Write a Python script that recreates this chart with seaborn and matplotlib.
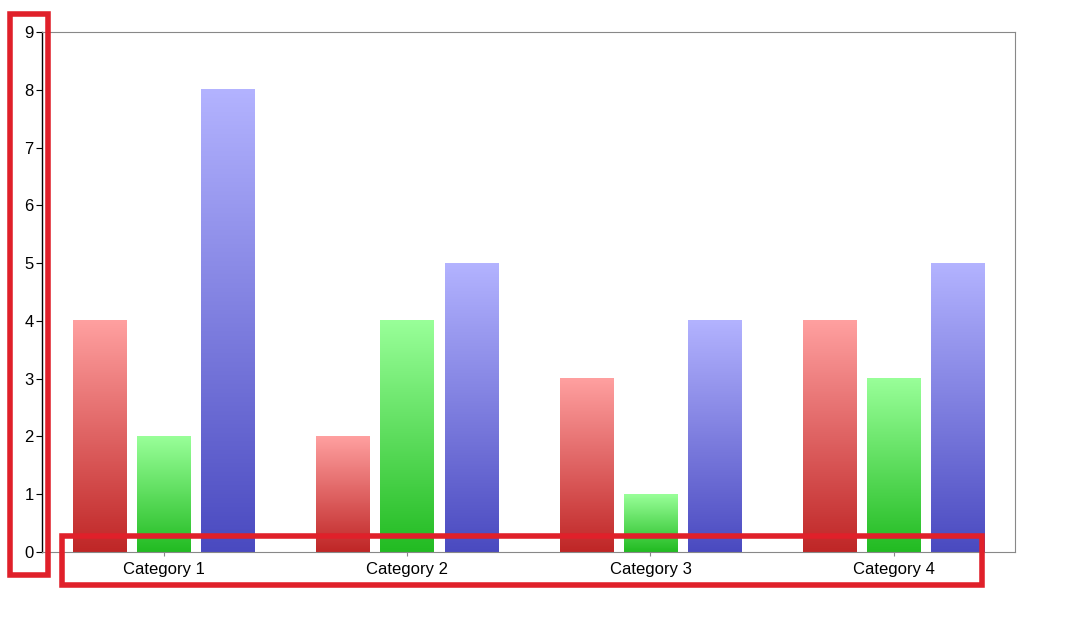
import numpy as np
import pandas as pd
import matplotlib
matplotlib.use('Agg')
import matplotlib.pyplot as plt
import seaborn as sns
from matplotlib.colors import LinearSegmentedColormap
from matplotlib.patches import Rectangle

categories = ['Category 1', 'Category 2', 'Category 3', 'Category 4']
series_names = ['Series 1', 'Series 2', 'Series 3']
series_1 = [4, 2, 3, 4]
series_2 = [2, 4, 1, 3]
series_3 = [8, 5, 4, 5]
y_ticks = [0, 1, 2, 3, 4, 5, 6, 7, 8, 9]

# gradient (top colour, bottom colour) per series
gradients = [('#ffa0a0', '#bf2626'), ('#99ff99', '#22bb22'), ('#b3b3ff', '#4a4ac0')]

df = pd.DataFrame({
    'category': categories * 3,
    'series': [s for s in series_names for _ in categories],
    'value': series_1 + series_2 + series_3,
})

sns.set_style('white')
plt.rcParams['font.family'] = ['Liberation Sans', 'DejaVu Sans']

fig = plt.figure(figsize=(10.81, 6.2), dpi=100)
ax = fig.add_axes([42 / 1081, 1 - 552 / 620, (1015.5 - 42) / 1081, (552 - 32) / 620])

sns.barplot(data=df, x='category', y='value', hue='series', ax=ax,
            width=0.789, gap=0.17, legend=False, palette=['r', 'g', 'b'])

# replace each flat bar with a vertical gradient
grad = np.linspace(0, 1, 256).reshape(-1, 1)
for i, container in enumerate(ax.containers):
    cmap = LinearSegmentedColormap.from_list('g%d' % i, [gradients[i][0], gradients[i][1]])
    for patch in container:
        x0, y0 = patch.get_x(), patch.get_y()
        w, h = patch.get_width(), patch.get_height()
        patch.set_visible(False)
        ax.imshow(grad, cmap=cmap, aspect='auto', extent=(x0, x0 + w, y0, y0 + h),
                  origin='upper', zorder=2)

ax.set_xlim(-0.5, len(categories) - 0.5)
ax.set_ylim(0, 9)
ax.set_yticks(y_ticks)
ax.set_xlabel('')
ax.set_ylabel('')
ax.tick_params(axis='both', labelsize=12, colors='black', length=4, width=0.8, direction='out')
ax.tick_params(axis='x', length=3, color='#888888', pad=4)
ax.tick_params(axis='y', left=True, pad=2)
ax.tick_params(axis='x', bottom=True)

for side in ['top', 'right', 'bottom']:
    ax.spines[side].set_color('#888888')
    ax.spines[side].set_linewidth(0.8)
ax.spines['left'].set_color('black')
ax.spines['left'].set_linewidth(1.0)

# red highlight boxes around the axis labels
fig.patches.append(Rectangle((10 / 1081, 1 - 575 / 620), 38 / 1081, 561 / 620,
                             transform=fig.transFigure, fill=False,
                             edgecolor='#e0202a', linewidth=4, zorder=10))
fig.patches.append(Rectangle((62 / 1081, 1 - 585 / 620), 920 / 1081, 49 / 620,
                             transform=fig.transFigure, fill=False,
                             edgecolor='#e0202a', linewidth=4, zorder=10))

fig.savefig('out.png', dpi=100)
